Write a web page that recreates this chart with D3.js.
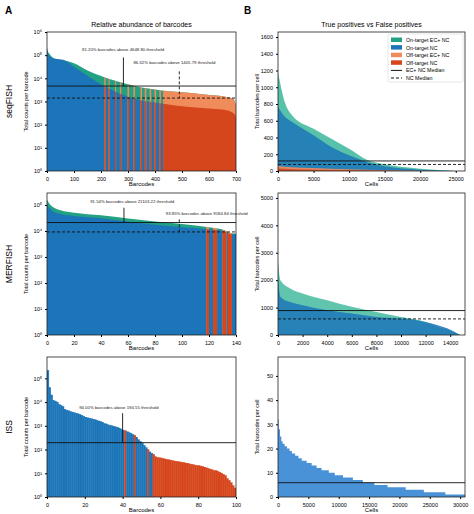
<!DOCTYPE html>
<html><head><meta charset="utf-8">
<script src="https://cdn.jsdelivr.net/npm/d3@7"></script>
<style>body{margin:0;background:#fff}text{font-family:"Liberation Sans",Arial,sans-serif}</style>
</head><body><svg id="fig" width="474" height="514"></svg>
<script>
// colours
var cOnAll = "#22a183", cOnNc = "#1c75b8", cOffAll = "#f08c5c", cOffNc = "#d6461d";

// seqFISH barcodes (A)
var seqX = [0,3,10,30,60,100,150,200,250,300,350,400,450,500,550,600,650,690,700];
var seqTotal = [224000,150000,110000,70000,60000,45000,22000,12600,8000,5500,4000,3300,2800,2500,2200,1900,1700,1300,650];
var seqNc = [180000,120000,90000,70000,63000,32000,13000,5500,2800,1600,1100,900,750,630,550,500,450,320,220];
var seqOff = [[212,217],[228,232],[252,256],[270,275],[298,304],[320,326],[346,352],[362,368],[380,386],[398,404],[416,422],[430,700]];
// MERFISH barcodes (A)
var merX = [0,2,5,10,20,40,60,80,100,120,130,138,140];
var merTotal = [160000,110000,80000,63000,50000,40000,30000,23000,18600,14000,11500,8000,8000];
var merNc = [95000,75000,55000,45000,38000,31000,23000,17400,14000,11700,10000,7400,7400];
var merOff = [[118,120],[123,126],[130,133],[134,137]];
// ISS barcodes (A), one bar per barcode
var issBars = [215000,40000,20000,12000,11000,10000,8000,7200,6500,5000,4600,4300,4000,3800,3600,3400,3200,3000,2800,2500,2300,2200,2100,2000,1900,1800,1700,1600,1500,1400,1260,1200,1100,1050,1000,950,900,850,800,720,660,620,560,520,480,430,400,330,260,220,185,150,120,100,80,70,62,50,47,45,44,42,40,38,37,35,34,33,32,31,30,29,28,27,26,25,24,23,22,21,21,20,19,18,17,16,15,14,13,13,12,11,10,9,8,6,5,4,3,2.4];
var issOff = [41,46,53,56];
var issOffFrom = 57;

// thresholds: [value, xVertical, yTop, label, labelX, labelY, dashed]
var seqThr = [[4648.80,283,80000,"81.20% barcodes above 4648.80 threshold",130,150000,false],
              [1405.79,490,20000,"86.32% barcodes above 1405.79 threshold",320,42000,true]];
var merThr = [[21103.22,57,78000,"91.54% barcodes above 21103.22 threshold",32,115000,false],
              [9184.84,98,28000,"93.85% barcodes above 9184.84 threshold",88,40000,true]];
var issThr = [[194.55,40,3400,"94.00% barcodes above 194.55 threshold",17,5200,false]];

// cells (B)
var seqCellX = [0,1000,2000,5000,7500,10000,12500,15000,20000,25000];
var seqCellTotal = [1180,812,664,505,386,267,135,80,28,0];
var seqCellNc = [764,645,585,426,287,187,107,56,16,0];
var seqCellOffX = [0,2000,5000,10000,15000,20000,25000];
var seqCellOffTotal = [60,45,35,20,10,4,0];
var seqCellOffNc = [30,22,15,8,4,1,0];
var seqMed = [120,78];
var merCellX = [0,200,1000,2000,4000,6000,8000,10000,12000,13000,14000,14800];
var merCellTotal = [2740,2000,1700,1515,1270,1030,843,660,477,293,171,0];
var merCellNc = [2126,1390,1200,1088,904,782,660,600,477,354,196,0];
var merMed = [892,587];
var issCellStart = [0,109,326,543,761,1087,1467,1902,2283,2826,3370,3913,4728,5543,6359,7174,8370,9348,10707,12337,13967,15870,18043,21033,24022,27554];
var issCellVal = [32,28,25,23,22,21,20,19,18,17,16,15,14,13,12,11,10,9,8,7,6,5,4,3,2,1];
var issCellEnd = 30815;
var issMed = 5.9;

var svg = d3.select("#fig");
var AX = [47,236], BX = [278,465];
var rows = [[32,171],[193,335],[357,497]];
var sup = "⁰¹²³⁴⁵⁶";

function frame(x0,x1,y0,y1){
  svg.append("rect").attr("x",x0).attr("y",y0).attr("width",x1-x0).attr("height",y1-y0)
    .attr("fill","none").attr("stroke","#222").attr("stroke-width",0.8);
}
function axes(x,y,yTicks,xTicks,yFmt,xLab,yLab,r,xr){
  svg.append("g").attr("transform","translate(0,"+r[1]+")")
    .call(d3.axisBottom(x).tickValues(xTicks).tickSize(2).tickFormat(d3.format("d")))
    .call(g=>{g.select(".domain").remove();g.selectAll("text").attr("font-size",5.5).attr("dy","0.9em");});
  svg.append("g").attr("transform","translate("+xr[0]+",0)")
    .call(d3.axisLeft(y).tickValues(yTicks).tickSize(2).tickFormat(yFmt))
    .call(g=>{g.select(".domain").remove();g.selectAll("text").attr("font-size",5.5);});
  svg.append("text").attr("x",(xr[0]+xr[1])/2).attr("y",r[1]+15).attr("text-anchor","middle").attr("font-size",6).text(xLab);
  svg.append("text").attr("transform","translate("+(xr[0]-19)+","+(r[0]+r[1])/2+") rotate(-90)")
    .attr("text-anchor","middle").attr("font-size",5.5).text(yLab);
}

function panelA(i,xMax,yMax,X,T,N,off,thr,barMode){
  var r = rows[i];
  var x = d3.scaleLinear().domain([0,xMax]).range(AX);
  var y = d3.scaleLog().domain([1,yMax]).range([r[1],r[0]]);
  var cid = "clipA"+i, oid = "offA"+i;
  var defs = svg.append("defs");
  defs.append("clipPath").attr("id",cid).append("rect").attr("x",AX[0]).attr("y",r[0]).attr("width",AX[1]-AX[0]).attr("height",r[1]-r[0]);
  var g = svg.append("g").attr("clip-path","url(#"+cid+")");
  if(!barMode){
    var pts = X.map((v,k)=>({x:v,t:T[k],n:N[k]}));
    var aT = d3.area().curve(d3.curveMonotoneX).x(d=>x(d.x)).y0(r[1]).y1(d=>y(d.t));
    var aN = d3.area().curve(d3.curveMonotoneX).x(d=>x(d.x)).y0(r[1]).y1(d=>y(d.n));
    var cp = defs.append("clipPath").attr("id",oid);
    off.forEach(o=>cp.append("rect").attr("x",x(o[0])).attr("y",r[0]).attr("width",x(o[1])-x(o[0])).attr("height",r[1]-r[0]));
    g.append("path").attr("d",aT(pts)).attr("fill",cOnAll);
    g.append("path").attr("d",aN(pts)).attr("fill",cOnNc);
    var go = g.append("g").attr("clip-path","url(#"+oid+")");
    go.append("path").attr("d",aT(pts)).attr("fill",cOffAll);
    go.append("path").attr("d",aN(pts)).attr("fill",cOffNc);
  } else {
    g.selectAll("rect.b").data(X).enter().append("rect")
      .attr("x",(d,k)=>x(k)).attr("width",(d,k)=>x(k+1)-x(k))
      .attr("y",d=>y(d)).attr("height",d=>r[1]-y(d))
      .attr("fill",(d,k)=>(k>=off.from||off.list.indexOf(k)>=0)?cOffNc:cOnNc)
      .attr("stroke",(d,k)=>(k>=off.from||off.list.indexOf(k)>=0)?cOffNc:cOnNc).attr("stroke-width",0.4);
  }
  thr.forEach(t=>{
    var da = t[6] ? "3,2" : null;
    g.append("line").attr("x1",AX[0]).attr("x2",AX[1]).attr("y1",y(t[0])).attr("y2",y(t[0]))
      .attr("stroke","#111").attr("stroke-width",0.9).attr("stroke-dasharray",da);
    g.append("line").attr("x1",x(t[1])).attr("x2",x(t[1])).attr("y1",y(t[2])).attr("y2",y(t[0]))
      .attr("stroke","#111").attr("stroke-width",0.9).attr("stroke-dasharray",da);
    svg.append("text").attr("x",x(t[4])).attr("y",y(t[5])).attr("font-size",4.3).attr("fill","#222").text(t[3]);
  });
  frame(AX[0],AX[1],r[0],r[1]);
  var dec = d3.range(0,Math.floor(Math.log10(yMax))+1);
  axes(x,y,dec.map(e=>Math.pow(10,e)),d3.range(0,xMax+1,xMax>300?100:20),
    d=>"10"+sup[Math.round(Math.log10(d))],"Barcodes","Total counts per barcode",r,AX);
  return x;
}

function panelB(i,xMax,yMax,yStep,xStep){
  var r = rows[i];
  var x = d3.scaleLinear().domain([0,xMax]).range(BX);
  var y = d3.scaleLinear().domain([0,yMax]).range([r[1],r[0]]);
  return {x:x,y:y,r:r,fin:function(){
    frame(BX[0],BX[1],r[0],r[1]);
    axes(x,y,d3.range(0,yMax,yStep),d3.range(0,xMax,xStep),d3.format("d"),"Cells","Total barcodes per cell",r,BX);
  }};
}
function cellArea(p,X,V,col,op){
  var pts = X.map((v,k)=>[v,V[k]]);
  svg.append("path").attr("d",d3.area().curve(d3.curveMonotoneX).x(d=>p.x(d[0])).y0(p.r[1]).y1(d=>p.y(d[1]))(pts))
    .attr("fill",col).attr("fill-opacity",op);
}
function medLine(p,v,dashed){
  svg.append("line").attr("x1",BX[0]).attr("x2",BX[1]).attr("y1",p.y(v)).attr("y2",p.y(v))
    .attr("stroke","#111").attr("stroke-width",0.9).attr("stroke-dasharray",dashed?"3,2":null);
}

panelA(0,700,1e6,seqX,seqTotal,seqNc,seqOff,seqThr,false);
panelA(1,140,Math.pow(10,5.46),merX,merTotal,merNc,merOff,merThr,false);
panelA(2,100,Math.pow(10,5.9),issBars,null,null,{list:issOff,from:issOffFrom},issThr,true);

var p0 = panelB(0,26300,1660,200,5000);
cellArea(p0,seqCellX,seqCellTotal,"#3ab79a",0.85);
cellArea(p0,seqCellX,seqCellNc,cOnNc,0.85);
cellArea(p0,seqCellOffX,seqCellOffTotal,cOffAll,0.9);
cellArea(p0,seqCellOffX,seqCellOffNc,cOffNc,0.9);
medLine(p0,seqMed[0],false); medLine(p0,seqMed[1],true);
p0.fin();

var p1 = panelB(1,15200,5180,1000,2000);
cellArea(p1,merCellX,merCellTotal,"#3ab79a",0.8);
cellArea(p1,merCellX,merCellNc,cOnNc,0.85);
medLine(p1,merMed[0],false); medLine(p1,merMed[1],true);
p1.fin();

var p2 = panelB(2,30800,57.8,10,5000);
var issPts = issCellStart.map((s,k)=>[s,issCellVal[k]]).concat([[issCellEnd,issCellVal[issCellVal.length-1]]]);
svg.append("path").attr("d",d3.area().curve(d3.curveStepAfter).x(d=>p2.x(d[0])).y0(p2.r[1]).y1(d=>p2.y(d[1]))(issPts))
  .attr("fill","#4a92d8");
medLine(p2,issMed,false);
p2.fin();

// legend
var legItems = [["On-target EC+ NC",cOnAll,"rect"],["On-target NC",cOnNc,"rect"],["Off-target EC+ NC",cOffAll,"rect"],
  ["Off-target NC",cOffNc,"rect"],["EC+ NC Median","#111","solid"],["NC Median","#111","dash"]];
var lg = svg.append("g").attr("transform","translate(388,34)");
lg.append("rect").attr("width",75).attr("height",48).attr("fill","#fff").attr("stroke","#ccc").attr("stroke-width",0.5).attr("rx",1.5);
legItems.forEach((it,k)=>{
  var yy = 6+k*7.6;
  if(it[2]=="rect") lg.append("rect").attr("x",3).attr("y",yy-2.5).attr("width",11).attr("height",4.5).attr("fill",it[1]);
  else lg.append("line").attr("x1",3).attr("x2",14).attr("y1",yy).attr("y2",yy).attr("stroke","#111").attr("stroke-dasharray",it[2]=="dash"?"3,2":null);
  lg.append("text").attr("x",18).attr("y",yy+2).attr("font-size",5.3).text(it[0]);
});

// titles and labels
svg.append("text").attr("x",5).attr("y",14).attr("font-size",10).attr("font-weight","bold").text("A");
svg.append("text").attr("x",244).attr("y",14).attr("font-size",10).attr("font-weight","bold").text("B");
svg.append("text").attr("x",(AX[0]+AX[1])/2).attr("y",27).attr("text-anchor","middle").attr("font-size",7).text("Relative abundance of barcodes");
svg.append("text").attr("x",(BX[0]+BX[1])/2).attr("y",27).attr("text-anchor","middle").attr("font-size",7).text("True positives vs False positives");
["seqFISH","MERFISH","ISS"].forEach((t,k)=>{
  svg.append("text").attr("transform","translate(12,"+(rows[k][0]+rows[k][1])/2+") rotate(-90)")
    .attr("text-anchor","middle").attr("font-size",8.5).text(t);
});
</script></body></html>
